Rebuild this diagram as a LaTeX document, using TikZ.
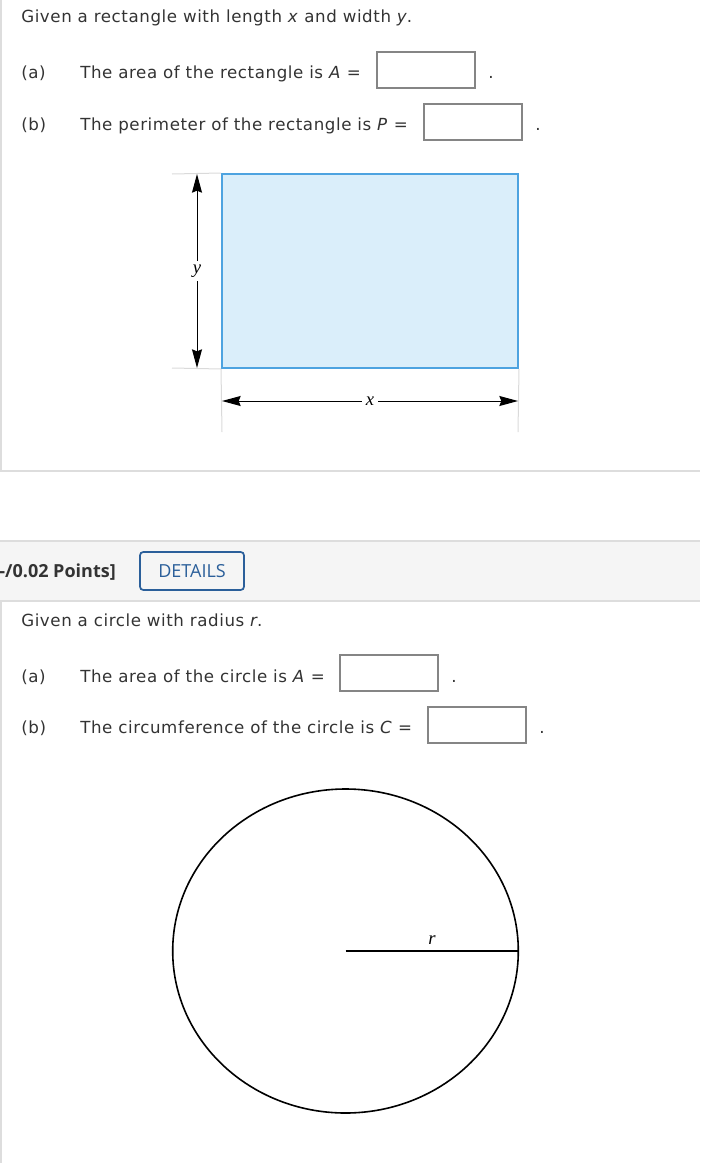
\documentclass[tikz,border=0pt]{standalone}
\usepackage{fontspec}
\setmainfont{DejaVu Sans}[LetterSpace=3.5]
\newfontfamily\opensans{Open Sans}
\newfontfamily\serifface{Liberation Serif}
\usetikzlibrary{arrows.meta}

\definecolor{qtextcol}{HTML}{333333}
\definecolor{boxgray}{HTML}{858585}
\definecolor{panelgray}{HTML}{DDDDDD}
\definecolor{headerfill}{HTML}{F5F5F5}
\definecolor{detailsblue}{HTML}{2B5F9A}
\definecolor{rect area}{HTML}{DAEEFA}
\definecolor{rect edge}{HTML}{4DA3E0}
\definecolor{extgray}{HTML}{DADADA}
\tikzset{qtext/.style={font=\fontsize{12.5}{14}\selectfont, text=qtextcol, anchor=base west, inner sep=0pt},
    answerbox/.style={draw=boxgray, line width=1.2pt, minimum width=73.5pt, minimum height=27pt,
                      inner sep=0pt, anchor=north west},
    panelline/.style={draw=panelgray, line width=1.5pt},
    extline/.style={draw=extgray, line width=0.75pt},
    dimline/.style={line width=0.75pt, {Stealth[length=14pt,width=7.5pt,inset=1.5pt]}-{Stealth[length=14pt,width=7.5pt,inset=1.5pt]}},
    dimlabel/.style={font=\serifface\itshape\fontsize{14}{16}\selectfont, fill=white, inner sep=3pt},
    filledrect/.style={fill=rect area, draw=rect edge, line width=1.5pt, minimum width=222pt,
                       minimum height=145.5pt, inner sep=0pt},
    detailsbtn/.style={draw=detailsblue, text=detailsblue, line width=1.3pt, rounded corners=2.5pt,
                       minimum width=78pt, minimum height=28.5pt, inner sep=0pt,
                       font=\opensans\fontsize{13.5}{15}\selectfont}}

\begin{document}
\begin{tikzpicture}[x=0.75pt, y=-0.75pt]
    \useasboundingbox (0,0) rectangle (700,1163);
    % panels
    \fill[headerfill] (0,541) rectangle (700,601);
    \draw[panelline] (0,541) -- (700,541);
    \draw[panelline] (0,601) -- (700,601);
    \draw[panelline] (0,471) -- (700,471);
    \draw[draw=panelgray, line width=1pt] (1,0) -- (1,471);
    \draw[draw=panelgray, line width=1pt] (1,601) -- (1,1163);

    % rectangle question
    \node[qtext] (rtitle) at (21,23) {Given a rectangle with length \textit{x} and width \textit{y}.};
    \node[qtext] (ra) at (21,79) {(a)};
    \node[qtext] (ratext) at (80,79) {The area of the rectangle is \textit{A} =};
    \node[answerbox] (rabox) at (376,51) {};
    \node[qtext] (radot) at (488,79) {.};
    \node[qtext] (rb) at (21,130) {(b)};
    \node[qtext] (rbtext) at (80,130) {The perimeter of the rectangle is \textit{P} =};
    \node[answerbox] (rbbox) at (423,103) {};
    \node[qtext] (rbdot) at (535,130) {.};

    \node[filledrect] (rect) at (370,271) {};
    \coordinate (extTL) at (172,174);
    \coordinate (extBL) at (172,368);
    \coordinate (extLB) at (222,432);
    \coordinate (extRB) at (518,432);
    \draw[extline] (extTL) -- (rect.north west);
    \draw[extline] (extBL) -- (rect.south west);
    \draw[extline] (rect.south west) -- (extLB);
    \draw[extline] (rect.south east) -- (extRB);
    \coordinate (ytop) at (197,174);
    \coordinate (ybot) at (197,368);
    \coordinate (xleft) at (222,401);
    \coordinate (xright) at (518,401);
    \draw[dimline] (ytop) -- node[dimlabel] (ylab) {y} (ybot);
    \draw[dimline] (xleft) -- node[dimlabel] (xlab) {x} (xright);

    % header bar
    \node[font=\opensans\bfseries\fontsize{13.5}{15}\selectfont, text=qtextcol, anchor=base east,
          inner sep=0pt] (points) at (116,577) {-/0.02 Points]};
    \node[detailsbtn] (details) at (192,571) {DETAILS};

    % circle question
    \node[qtext] (ctitle) at (21,626) {Given a circle with radius \textit{r}.};
    \node[qtext] (ca) at (21,682) {(a)};
    \node[qtext] (catext) at (80,682) {The area of the circle is \textit{A} =};
    \node[answerbox] (cabox) at (339,654) {};
    \node[qtext] (cadot) at (451,682) {.};
    \node[qtext] (cb) at (21,733) {(b)};
    \node[qtext] (cbtext) at (80,733) {The circumference of the circle is \textit{C} =};
    \node[answerbox] (cbbox) at (427,706) {};
    \node[qtext] (cbdot) at (539,733) {.};

    \coordinate (ctr) at (345.5,951);
    \coordinate (rim) at (518.5,951);
    \draw[line width=1.2pt] (ctr) ellipse [x radius=172.8, y radius=162];
    \draw[line width=1.5pt] (ctr) -- node[dimlabel, fill=none, above=1pt] (rlab) {r} (rim);
\end{tikzpicture}
\end{document}
